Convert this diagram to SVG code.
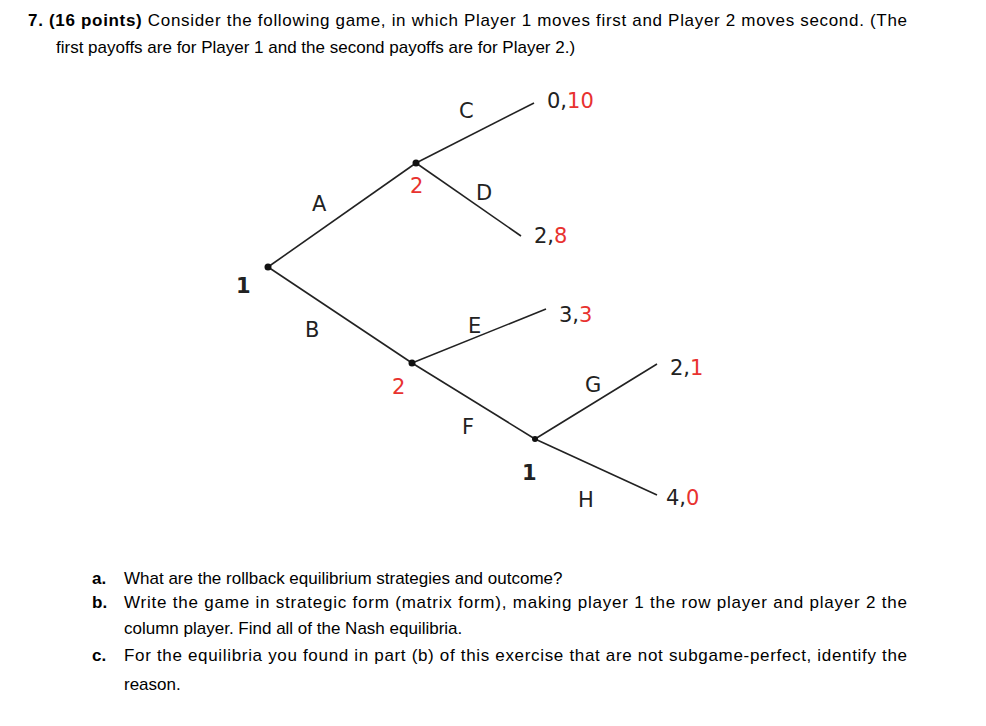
<svg xmlns="http://www.w3.org/2000/svg" width="986" height="726" viewBox="0 0 986 726">
<style>
.t{font-family:"Liberation Sans",Arial,sans-serif;font-size:17px;fill:#000}
.b{font-weight:bold}
.h{font-family:"DejaVu Sans",sans-serif;font-size:21px;fill:#222}
.r{fill:#e8322f}
.e{stroke:#222;stroke-width:1.6;fill:none}
.n{fill:#111}
</style>
<rect width="986" height="726" fill="#fff"/>
<text class="t" x="28" y="26" textLength="879"><tspan class="b">7.   (16 points)</tspan> Consider the following game, in which Player 1 moves first and Player 2 moves second. (The</text>
<text class="t" x="56" y="53">first payoffs are for Player 1 and the second payoffs are for Player 2.)</text>
<g id="edges">
<line class="e" x1="268" y1="267" x2="416" y2="163"/>
<line class="e" x1="416" y1="163" x2="534" y2="103"/>
<line class="e" x1="416" y1="163" x2="521" y2="236"/>
<line class="e" x1="268" y1="267" x2="412" y2="363"/>
<line class="e" x1="412" y1="363" x2="546" y2="309"/>
<line class="e" x1="412" y1="363" x2="535" y2="439"/>
<line class="e" x1="535" y1="439" x2="657" y2="364"/>
<line class="e" x1="535" y1="439" x2="657" y2="495"/>
</g>
<g id="n1"><circle class="n" cx="268" cy="267" r="3.5"/><text class="h b" x="236" y="293">1</text></g>
<g id="n2a"><circle class="n" cx="416" cy="163" r="3.5"/><text class="h r" x="410" y="193">2</text></g>
<g id="n2b"><circle class="n" cx="412" cy="363" r="3.5"/><text class="h r" x="392" y="394">2</text></g>
<g id="n1b"><circle class="n" cx="535" cy="439" r="3"/><text class="h b" x="522" y="480">1</text></g>
<g id="labels">
<text class="h" x="459" y="118">C</text>
<text class="h" x="312" y="211">A</text>
<text class="h" x="476" y="200">D</text>
<text class="h" x="305" y="337">B</text>
<text class="h" x="468" y="333">E</text>
<text class="h" x="585" y="392">G</text>
<text class="h" x="462" y="434">F</text>
<text class="h" x="578" y="507">H</text>
</g>
<g id="payoffs">
<text class="h" x="547" y="108">0,<tspan class="r">10</tspan></text>
<text class="h" x="534" y="243">2,<tspan class="r">8</tspan></text>
<text class="h" x="559" y="322">3,<tspan class="r">3</tspan></text>
<text class="h" x="670" y="375">2,<tspan class="r">1</tspan></text>
<text class="h" x="666" y="505">4,<tspan class="r">0</tspan></text>
</g>
<text class="t" x="92" y="584"><tspan class="b">a.</tspan><tspan x="124">What are the rollback equilibrium strategies and outcome?</tspan></text>
<text class="t" x="92" y="608"><tspan class="b">b.</tspan><tspan x="124" textLength="783">Write the game in strategic form (matrix form), making player 1 the row player and player 2 the</tspan></text>
<text class="t" x="124" y="634">column player. Find all of the Nash equilibria.</text>
<text class="t" x="92" y="661"><tspan class="b">c.</tspan><tspan x="124" textLength="783">For the equilibria you found in part (b) of this exercise that are not subgame-perfect, identify the</tspan></text>
<text class="t" x="124" y="690">reason.</text>
</svg>
